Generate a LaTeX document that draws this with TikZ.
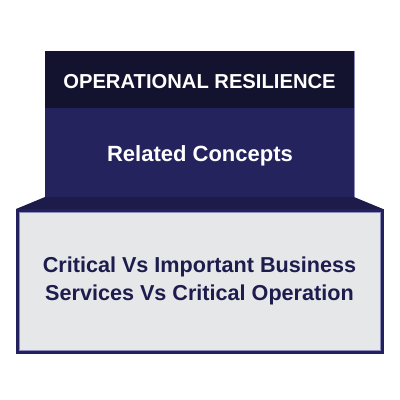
\documentclass[tikz,border=0pt]{standalone}
\usepackage{fontspec}
\setmainfont{Liberation Sans}
\definecolor{navydark}{HTML}{13122F}
\definecolor{navymid}{HTML}{24235E}
\definecolor{navyshelf}{HTML}{1C1B4A}
\definecolor{navyedge}{HTML}{22205D}
\definecolor{lavline}{HTML}{8E8CBA}
\definecolor{panelgray}{HTML}{E6E7E9}
\definecolor{navytext}{HTML}{1E1C4C}
\begin{document}
\begin{tikzpicture}[x=1pt,y=-1pt,
	whitetxt/.style={text=white,font=\fontsize{22}{26}\selectfont\bfseries,inner sep=0pt,anchor=base},
	titletxt/.style={whitetxt,font=\fontsize{20.2}{24}\selectfont\bfseries},
	paneltxt/.style={text=navytext,font=\fontsize{21.6}{28.5}\selectfont\bfseries,inner sep=0pt,anchor=base,align=center}]
		\useasboundingbox (0,0) rectangle (400,400);
		\fill[white] (0,0) rectangle (400,400);
		% stacked header blocks
		\fill[navydark] (45,51) rectangle (354,108);
		\fill[navymid] (45,108) rectangle (354,197);
		\draw[lavline,line width=0.6pt] (354,51)--(354,197);
		\fill[navyshelf] (45,197)--(354,197)--(383,209)--(16,209)--cycle;
		% bottom panel
		\fill[navyedge] (16,209) rectangle (384,354);
		\fill[panelgray,draw=lavline,line width=0.8pt] (19.5,212.5) rectangle (380.5,350.5);
		\node[titletxt] (title) at (199.5,88) {OPERATIONAL RESILIENCE};
		\node[whitetxt] (related) at (200,161) {Related Concepts};
		\node[paneltxt] (critical) at (199.5,272) {Critical Vs Important Business};
		\node[paneltxt] (services) at (199.5,300.5) {Services Vs Critical Operation};
\end{tikzpicture}
\end{document}
